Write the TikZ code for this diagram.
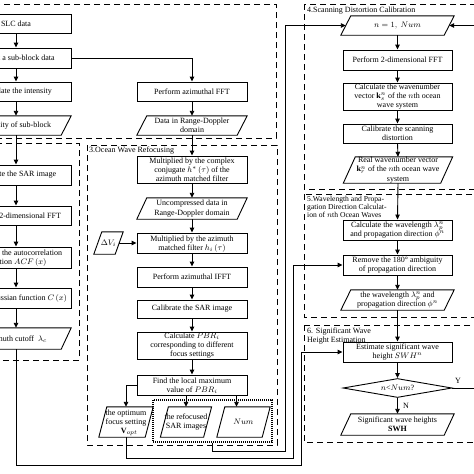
\documentclass[tikz,border=0pt]{standalone}
\usepackage{fontspec}
\setmainfont{Liberation Serif}
\usetikzlibrary{arrows.meta,shapes.geometric,calc}
\newcommand\fs{\fontsize{8}{9.2}\selectfont}
\newcommand\fst{\fontsize{7.6}{8}\selectfont}
\newcommand\sm[1]{\smash{$#1$}}
\newcommand\pgram[2]{\draw[ln] ([xshift=-#2pt]#1.south west) -- ([xshift=#2pt]#1.north west) -- ([xshift=#2pt]#1.north east) -- ([xshift=-#2pt]#1.south east) -- cycle;}
\tikzset{
  ln/.style={line width=0.9pt},
  box/.style={draw, ln, align=center, inner sep=0pt, font=\fs, minimum width=110pt, minimum height=20pt},
  ptext/.style={align=center, inner sep=0pt, font=\fs, minimum height=20pt},
  arr/.style={ln, -{Triangle[length=5pt,width=4.5pt]}},
  sec/.style={line width=1pt, dash pattern=on 6pt off 4pt},
  ttl/.style={font=\fs, align=left, inner sep=0pt, anchor=north west}
}
\begin{document}
\begin{tikzpicture}[x=1pt,y=-1pt]
\useasboundingbox (0,0) rectangle (474,474);
\clip (0,0) rectangle (474,474);
\fill[white] (0,0) rectangle (474,474);
% sections
\draw[sec] (-10,4) rectangle (276,138);
\draw[sec] (-10,143) rectangle (79,360);
\draw[sec] (87,145) rectangle (277,445);
\draw[sec] (304,4) rectangle (490,189);
\draw[sec] (304,194) rectangle (490,317);
\draw[sec] (304,325) rectangle (490,442);
\node[ttl] (t3) at (89,147) {3.Ocean Wave Refocusing};
\node[ttl] (t4) at (307,7) {4.Scanning Distortion Calibration};
\node[ttl, font=\fst] (t5) at (307,196.5) {5.Wavelength and Propa-\\gation Direction Calculat-\\ion of $n$th Ocean Waves};
\node[ttl, font=\fontsize{8}{9.5}\selectfont] (t6) at (307,327.5) {6. Significant Wave\\Height Estimation};
% left column
\node[box, minimum height=19pt] (slc) at (16,23.5) {SLC data};
\node[box] (sub) at (16,58) {Extract a sub-block data};
\node[box, minimum height=19pt] (inten) at (16,91.5) {Calculate the intensity};
\node[ptext, minimum width=100pt, minimum height=19pt] (isub) at (16,125.5) {Intensity of sub-block}; \pgram{isub}{5}
\node[box] (cal) at (16,175) {Calibrate the SAR image};
\node[box, minimum height=19pt] (fft2) at (16,215.5) {Perform 2-dimensional FFT};
\node[box, minimum height=21pt] (acf) at (16,257.5) {Calculate the autocorrelation\\function \sm{ACF\left(x\right)}};
\node[box] (gau) at (16,298) {Fit the Gaussian function \sm{C\left(x\right)}};
\node[ptext, minimum width=100pt, minimum height=21pt] (cut) at (16,338.5) {Azimuth cutoff \ \sm{\lambda_c}}; \pgram{cut}{5}
% middle column
\node[box, minimum height=19pt] (fft) at (192,91.5) {Perform azimuthal FFT};
\node[ptext, minimum width=100pt, minimum height=19pt] (rd) at (192,125.5) {Data in Range-Doppler\\domain}; \pgram{rd}{5}
\node[box, minimum height=27pt] (mc) at (192,169.5) {Multiplied by the complex\\conjugate \sm{h^{*}\left(\tau\right)} of the\\azimuth matched filter};
\node[ptext, minimum width=100pt, minimum height=21pt] (unc) at (192,208.5) {Uncompressed data in\\Range-Doppler domain}; \pgram{unc}{5}
\node[box] (mf) at (192,243) {Multiplied by the azimuth\\matched filter \sm{h_i\left(\tau\right)}};
\node[ptext, minimum width=21pt, minimum height=22pt] (dv) at (108.5,243) {$\Delta V_i$}; \pgram{dv}{4}
\node[box] (ifft) at (192,277) {Perform azimuthal IFFT};
\node[box, minimum height=18pt] (cal2) at (192,309) {Calibrate the SAR image};
\node[box, minimum height=27pt] (pbr) at (192,345.5) {Calculate \sm{PBR_i}\\corresponding to different\\focus settings};
\node[box] (fmax) at (192,385) {Find the local maximum\\value of \sm{PBR_i}};
\node[ptext, minimum width=46pt, minimum height=30pt] (opt) at (126,422) {the optimum\\focus setting\\\sm{\mathbf{\Delta V}_{opt}}}; \pgram{opt}{4}
\node[draw, line width=1.2pt, dash pattern=on 1pt off 1pt, minimum width=119pt, minimum height=42pt, inner sep=0pt] (dotbox) at (212.5,421) {};
\node[ptext, minimum width=42pt, minimum height=30pt] (ref) at (186,422) {the refocused\\SAR images}; \pgram{ref}{4}
\node[ptext, minimum width=45pt, minimum height=30pt] (num) at (243.5,422) {$Num$}; \pgram{num}{4}
% right column
\node[ptext, minimum width=103pt, minimum height=19pt] (n1) at (397.5,25.5) {$n=1,\ Num$}; \pgram{n1}{5}
\node[box, minimum width=109pt] (fft2d) at (397.5,60) {Perform 2-dimensional FFT};
\node[box, minimum width=109pt, minimum height=27pt] (kvec) at (397.5,96.5) {Calculate the wavenumber\\vector \sm{\mathbf{k}^n_s} of the $n$th ocean\\wave system};
\node[box, minimum width=109pt, minimum height=19pt] (calsc) at (397.5,133.5) {Calibrate the scanning\\distortion};
\node[ptext, minimum width=97pt, minimum height=26pt] (real) at (398,170) {Real wavenumber vector\\\sm{\mathbf{k}^n_r} of the $n$th ocean wave\\system}; \pgram{real}{6}
\node[box, minimum width=109pt] (wl) at (397.5,230) {Calculate the wavelength \sm{\lambda^n_p}\\and propagation direction \sm{\phi^n}};
\node[box, minimum width=109pt] (rem) at (397.5,265) {Remove the 180° ambiguity\\of propagation direction};
\node[ptext, minimum width=103pt] (wlp) at (397.5,300) {the wavelength \sm{\lambda^n_p} and\\propagation direction \sm{\phi^n}}; \pgram{wlp}{5}
\node[box, minimum width=109pt] (est) at (397.5,352) {Estimate significant wave\\height \sm{SWH^n}};
\node[draw, ln, diamond, aspect=5.7, minimum width=109pt, minimum height=19pt, inner sep=0pt, font=\fs] (dia) at (397.5,388) {$n$<$Num$?};
\node[ptext, minimum width=103pt, minimum height=21pt] (swh) at (397.5,424.5) {Significant wave heights\\\textbf{SWH}}; \pgram{swh}{5}
\node[font=\fs, inner sep=0pt] (ylab) at (458,381) {Y};
\node[font=\fs, inner sep=0pt] (nlab) at (406,406) {N};
% connectors
\coordinate (b1) at (285,451);
\coordinate (b2) at (293,458);
\coordinate (b3) at (301,465);
\draw[arr] (slc.south) -- (sub.north);
\draw[arr] (sub.south) -- (inten.north);
\draw[arr] (inten.south) -- (isub.north);
\draw[arr] (isub.south) -- (cal.north);
\draw[arr] (cal.south) -- (fft2.north);
\draw[arr] (fft2.south) -- (acf.north);
\draw[arr] (acf.south) -- (gau.north);
\draw[arr] (gau.south) -- (cut.north);
\draw[arr] (sub.east) -| (fft.north);
\draw[arr] (fft.south) -- (rd.north);
\draw[arr] (rd.south) -- (mc.north);
\draw[arr] (mc.south) -- (unc.north);
\draw[arr] (unc.south) -- (mf.north);
\draw[arr] (dv.east) -- (mf.west);
\draw[arr] (mf.south) -- (ifft.north);
\draw[arr] (ifft.south) -- (cal2.north);
\draw[arr] (cal2.south) -- (pbr.north);
\draw[arr] (pbr.south) -- (fmax.north);
\draw[arr] (fmax.west) -| (opt.north);
\draw[arr] (fmax.south -| ref.north) -- (ref.north);
\draw[arr] ([xshift=-7pt]num.north |- fmax.south) -- ([xshift=-7pt]num.north);
\draw[arr] (dotbox.south) |- (b1) |- (n1.west);
\draw[arr] (opt.south) |- (b2) |- (rem.west);
\draw[arr] (cut.south) |- (b3) |- (est.west);
\draw[arr] (n1.south) -- (fft2d.north);
\draw[arr] (fft2d.south) -- (kvec.north);
\draw[arr] (kvec.south) -- (calsc.north);
\draw[arr] (calsc.south) -- (real.north);
\draw[arr] (real.south) -- (wl.north);
\draw[arr] (wl.south) -- (rem.north);
\draw[arr] (rem.south) -- (wlp.north);
\draw[arr] (wlp.south) -- (est.north);
\draw[arr] (est.south) -- (dia.north);
\draw[arr] (dia.south) -- (swh.north);
\draw[arr] (dia.east) -- ++(30,0) |- (n1.east);
\end{tikzpicture}
\end{document}
